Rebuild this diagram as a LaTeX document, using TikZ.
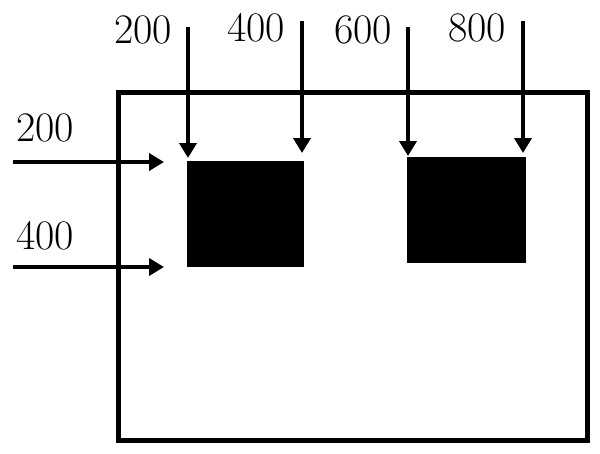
\documentclass[tikz,border=0pt]{standalone}
\usetikzlibrary{arrows.meta}
\begin{document}
\begin{tikzpicture}[x=1pt,y=-1pt,
  lbl/.style={inner sep=0pt,font=\fontsize{42}{42}\selectfont},
  arr/.style={line width=4pt,-{Triangle[width=17pt,length=15pt]}},
  blk/.style={fill=black,draw=none}]
\useasboundingbox (0,0) rectangle (600,453);
\draw[line width=5pt] (118,92) rectangle (587,440);
\fill[blk] (187,161) rectangle (304,267);
\fill[blk] (407,157) rectangle (526,263);
\node[lbl] (t1) at (143,30) {200};
\node[lbl] (t2) at (256,28) {400};
\node[lbl] (t3) at (363,30) {600};
\node[lbl] (t4) at (477,28) {800};
\node[lbl] (l1) at (45,128) {200};
\node[lbl] (l2) at (45,236) {400};
\coordinate (a1s) at (188,27); \coordinate (a1e) at (188,158);
\coordinate (a2s) at (302,21); \coordinate (a2e) at (302,153);
\coordinate (a3s) at (408,27); \coordinate (a3e) at (408,156);
\coordinate (a4s) at (523,21); \coordinate (a4e) at (523,153);
\coordinate (b1s) at (13,162); \coordinate (b1e) at (164,162);
\coordinate (b2s) at (13,267); \coordinate (b2e) at (164,267);
\draw[arr] (a1s) -- (a1e);
\draw[arr] (a2s) -- (a2e);
\draw[arr] (a3s) -- (a3e);
\draw[arr] (a4s) -- (a4e);
\draw[arr] (b1s) -- (b1e);
\draw[arr] (b2s) -- (b2e);
\end{tikzpicture}
\end{document}
